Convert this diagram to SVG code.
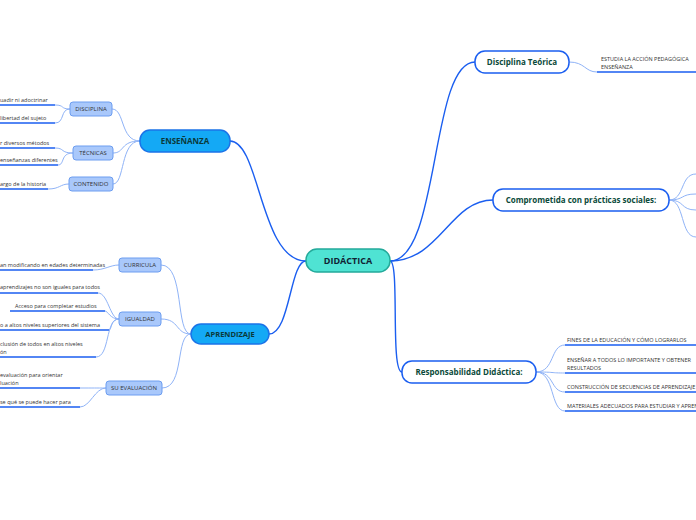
<svg xmlns="http://www.w3.org/2000/svg" width="696" height="520" viewBox="0 0 696 520">
<style>
text{font-family:"Open Sans","Noto Sans",sans-serif;fill:#333}
.c{fill:none;stroke:#1a5ef0;stroke-width:1.4}
.t{fill:none;stroke:#8fb3f7;stroke-width:1}
.u{stroke:#1a5ef0;stroke-width:1.6}
.main{fill:#fff;stroke:#1a5ef0;stroke-width:1.5}
.sub{fill:#a9c8fb;stroke:#6c9df0;stroke-width:1}
.mt{font-size:9px;font-weight:bold;fill:#0b4a3a}
.st{font-size:6px;fill:#333}
.lt{font-size:5.5px;fill:#333}
</style>
<g id="connectors">
<path class="c" d="M306 261 C260 261 260 141 230 141"/>
<path class="c" d="M306 261 C290 261 290 334 269 334"/>
<path class="c" d="M390 261 C440 261 430 62 475 62"/>
<path class="c" d="M390 261 C440 261 450 200 493 200"/>
<path class="c" d="M390 261 C400 261 390 372 402 372"/>
<path class="t" d="M140 141 C120 141 125 109 112 109"/>
<path class="t" d="M140 141 C120 141 125 153 113 153"/>
<path class="t" d="M140 141 C120 141 125 184 113 184"/>
<path class="t" d="M70 109 C60 109 65 105 55 105 M70 109 C60 109 65 123 55 123"/>
<path class="t" d="M73 153 C60 153 65 148 55 148 M73 153 C60 153 65 165 58 165"/>
<path class="t" d="M69 184 C60 184 60 189 48 189"/>
<path class="t" d="M191 334 C175 334 185 265 161 265"/>
<path class="t" d="M191 334 C175 334 180 319 161 319"/>
<path class="t" d="M191 334 C175 334 185 388 162 388"/>
<path class="t" d="M119 265 C110 265 105 270 93 270"/>
<path class="t" d="M119 319 C110 319 108 293 98 293 M119 319 C110 319 108 311 105 311 M119 319 C110 319 112 330 109 330 M119 319 C105 319 110 357 96 357"/>
<path class="t" d="M106 388 C95 388 95 388 80 388 M106 388 C95 388 90 407 80 407"/>
<path class="t" d="M569 62 C585 62 585 72 597 72"/>
<path class="t" d="M669 200 C685 200 680 174 696 174 M669 200 C685 200 680 194 696 194 M669 200 C685 200 680 210 696 210 M669 200 C685 200 680 237 696 237"/>
<path class="t" d="M536 372 C555 372 550 345 565 345 M536 372 C555 372 550 373 565 373 M536 372 C555 372 550 392 565 392 M536 372 C555 372 550 411 565 411"/>
<line class="u" x1="0" y1="105" x2="55" y2="105"/><line class="u" x1="0" y1="123" x2="55" y2="123"/>
<line class="u" x1="0" y1="148" x2="55" y2="148"/><line class="u" x1="0" y1="165" x2="58" y2="165"/>
<line class="u" x1="0" y1="189" x2="48" y2="189"/>
<line class="u" x1="0" y1="270" x2="93" y2="270"/>
<line class="u" x1="0" y1="293" x2="98" y2="293"/><line class="u" x1="10" y1="311" x2="105" y2="311"/>
<line class="u" x1="0" y1="330" x2="109" y2="330"/><line class="u" x1="0" y1="357" x2="96" y2="357"/>
<line class="u" x1="0" y1="388" x2="80" y2="388"/><line class="u" x1="0" y1="407" x2="80" y2="407"/>
<line class="u" x1="597" y1="72" x2="696" y2="72"/>
<line class="u" x1="565" y1="345" x2="696" y2="345"/><line class="u" x1="565" y1="373" x2="696" y2="373"/>
<line class="u" x1="565" y1="392" x2="696" y2="392"/><line class="u" x1="565" y1="411" x2="696" y2="411"/>
</g>
<g id="center"><rect x="306" y="249" width="84" height="23" rx="11" fill="#4fe3d3" stroke="#23a99a" stroke-width="1.5"/><text x="348" y="264" text-anchor="middle" class="mt" style="fill:#123">DIDÁCTICA</text></g>
<g id="ensenanza"><rect x="140" y="130" width="90" height="22" rx="10" fill="#14a9f5" stroke="#1a73e8" stroke-width="1.5"/><text x="185" y="144" text-anchor="middle" class="mt" style="font-size:8px;fill:#0b3a3a">ENSEÑANZA</text></g>
<g id="aprendizaje"><rect x="191" y="324" width="78" height="20" rx="10" fill="#14a9f5" stroke="#1a73e8" stroke-width="1.5"/><text x="230" y="337" text-anchor="middle" class="mt" style="font-size:7.5px;fill:#0b3a3a">APRENDIZAJE</text></g>
<g id="disciplina-teorica"><rect class="main" x="475" y="51" width="94" height="22" rx="10"/><text x="522" y="65" text-anchor="middle" class="mt" style="font-size:8px">Disciplina Teórica</text></g>
<g id="comprometida"><rect class="main" x="493" y="189" width="176" height="22" rx="10"/><text x="581" y="203" text-anchor="middle" class="mt" style="font-size:8px">Comprometida con prácticas sociales:</text></g>
<g id="responsabilidad"><rect class="main" x="402" y="361" width="134" height="22" rx="10"/><text x="469" y="375" text-anchor="middle" class="mt" style="font-size:8px">Responsabilidad Didáctica:</text></g>
<g id="disciplina"><rect class="sub" x="70" y="102" width="42" height="14" rx="3"/><text x="91" y="111" text-anchor="middle" class="st">DISCIPLINA</text></g>
<g id="tecnicas"><rect class="sub" x="73" y="146" width="40" height="14" rx="3"/><text x="93" y="155" text-anchor="middle" class="st">TÉCNICAS</text></g>
<g id="contenido"><rect class="sub" x="69" y="177" width="44" height="14" rx="3"/><text x="91" y="186" text-anchor="middle" class="st">CONTENIDO</text></g>
<g id="curricula"><rect class="sub" x="119" y="258" width="42" height="14" rx="3"/><text x="140" y="267" text-anchor="middle" class="st">CURRICULA</text></g>
<g id="igualdad"><rect class="sub" x="119" y="312" width="42" height="14" rx="3"/><text x="140" y="321" text-anchor="middle" class="st">IGUALDAD</text></g>
<g id="su-evaluacion"><rect class="sub" x="106" y="381" width="56" height="14" rx="3"/><text x="134" y="390" text-anchor="middle" class="st">SU EVALUACIÓN</text></g>
<g id="leaves">
<text class="lt" x="0" y="102">uadir ni adoctrinar</text>
<text class="lt" x="0" y="120">libertad del sujeto</text>
<text class="lt" x="0" y="145">r diversos métodos</text>
<text class="lt" x="0" y="162">enseñanzas diferentes</text>
<text class="lt" x="0" y="186">argo de la historia</text>
<text class="lt" x="0" y="267">an modificando en edades determinadas</text>
<text class="lt" x="0" y="289">aprendizajes no son iguales para todos</text>
<text class="lt" x="15" y="308">Acceso para completar estudios</text>
<text class="lt" x="0" y="327">o a altos niveles superiores del sistema</text>
<text class="lt" x="0" y="346">clusión de todos en altos niveles</text>
<text class="lt" x="0" y="354">ón</text>
<text class="lt" x="0" y="377">evaluación para orientar</text>
<text class="lt" x="0" y="385">luación</text>
<text class="lt" x="0" y="404">se qué se puede hacer para</text>
<text class="lt" x="601" y="61">ESTUDIA LA ACCIÓN PEDAGÓGICA</text>
<text class="lt" x="601" y="69">ENSEÑANZA</text>
<text class="lt" x="567" y="342">FINES DE LA EDUCACIÓN Y CÓMO LOGRARLOS</text>
<text class="lt" x="567" y="362">ENSEÑAR A TODOS LO IMPORTANTE Y OBTENER</text>
<text class="lt" x="567" y="370">RESULTADOS</text>
<text class="lt" x="567" y="389">CONSTRUCCIÓN DE SECUENCIAS DE APRENDIZAJE</text>
<text class="lt" x="567" y="408">MATERIALES ADECUADOS PARA ESTUDIAR Y APRENDER</text>
</g>
</svg>
